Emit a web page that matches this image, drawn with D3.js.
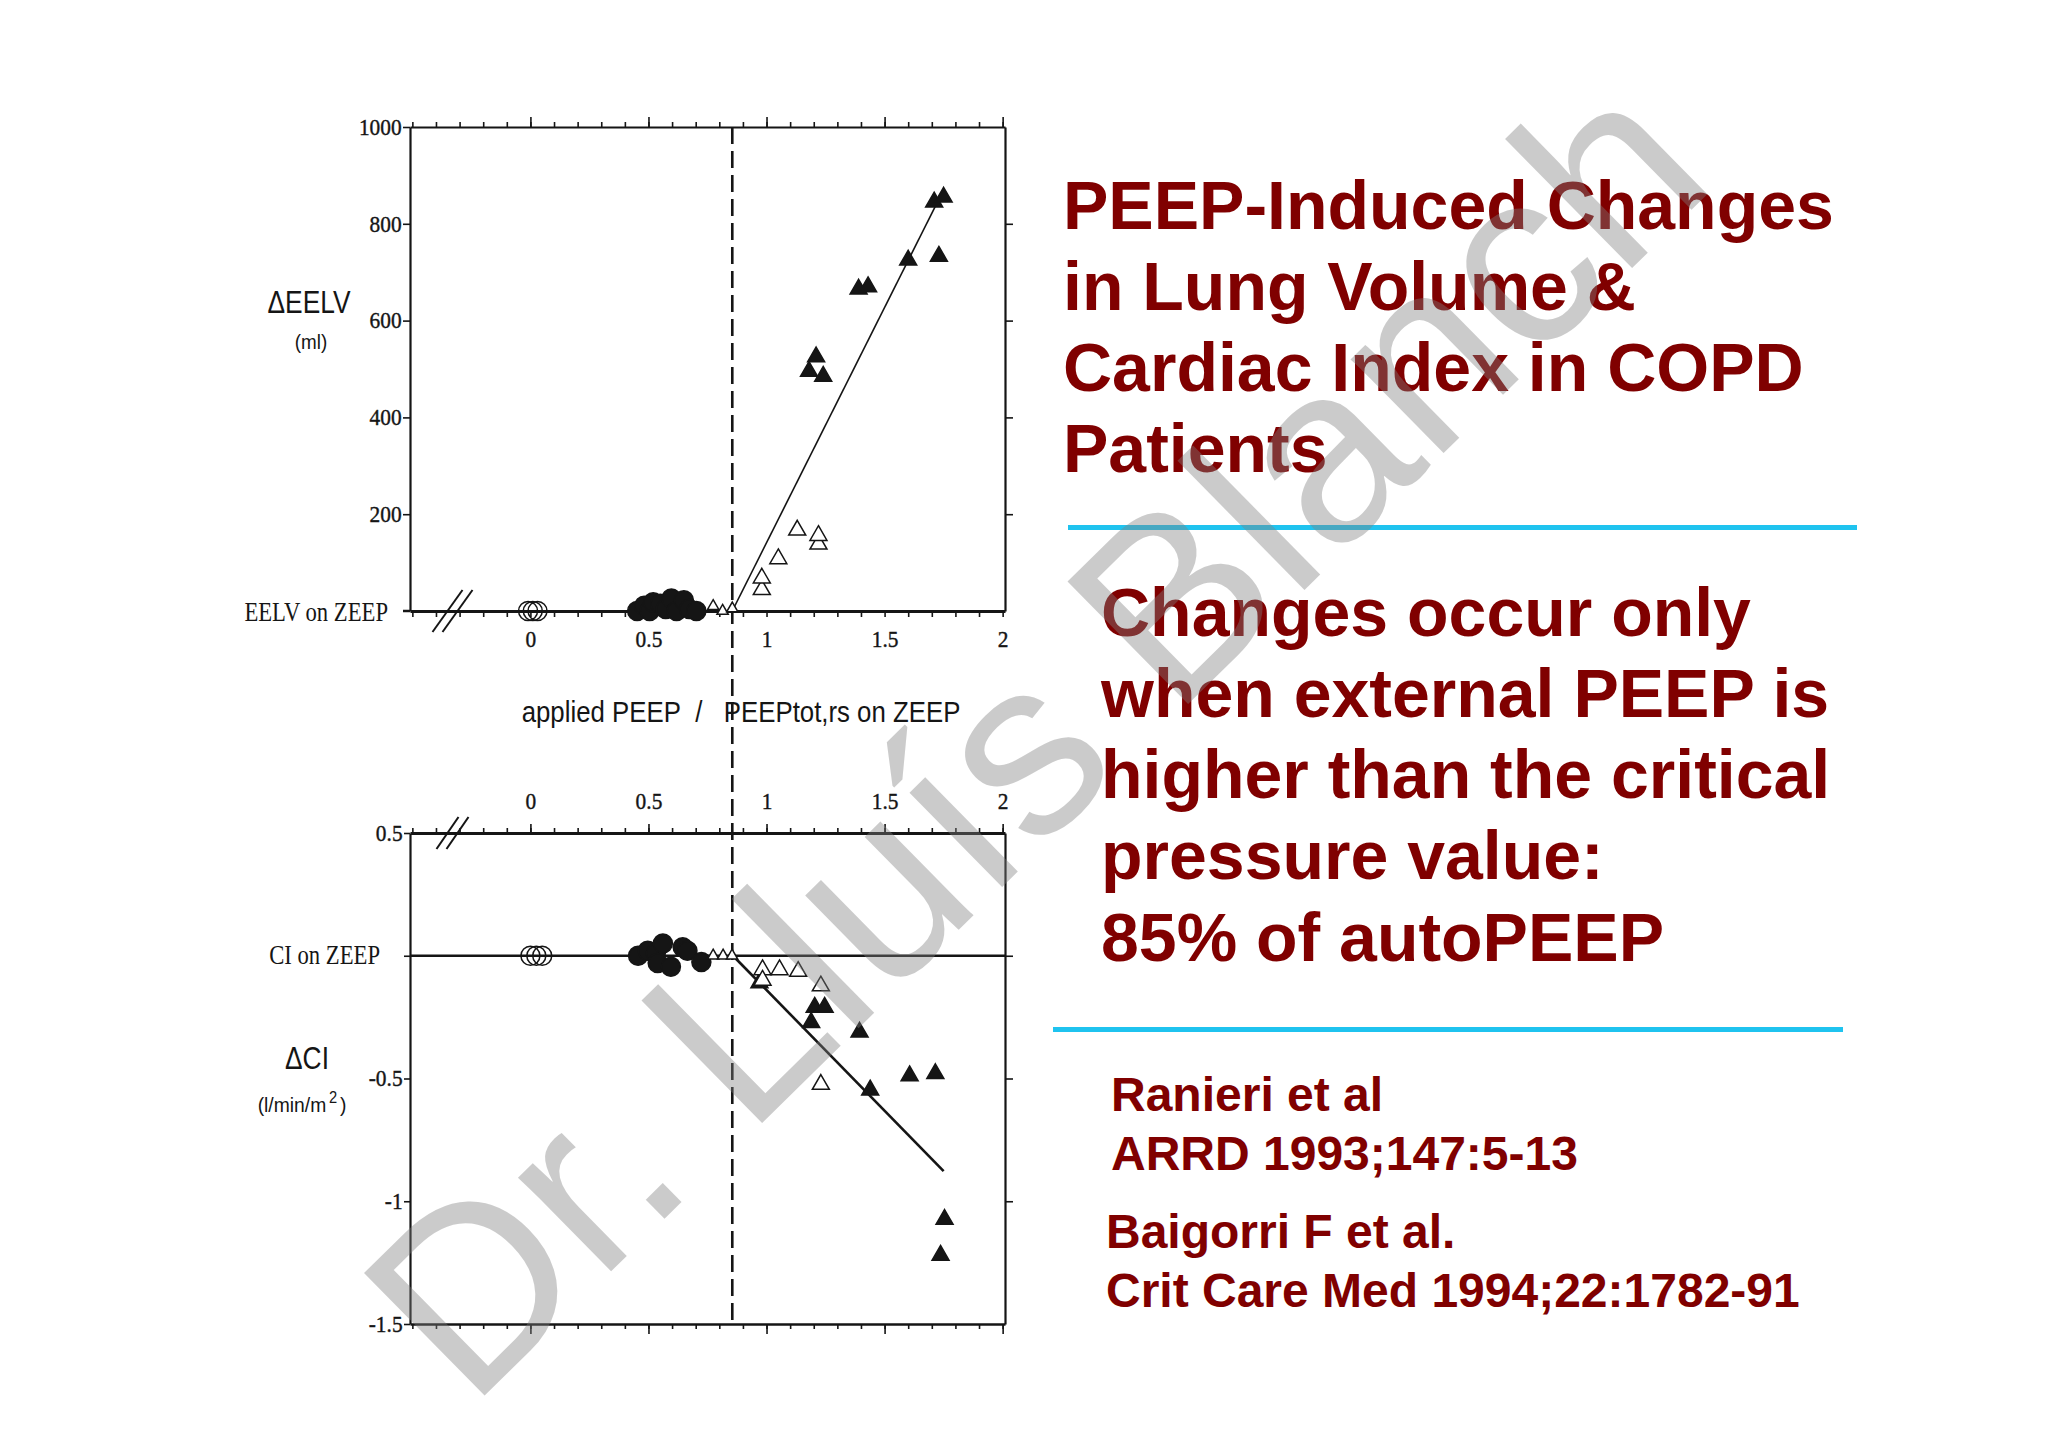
<!DOCTYPE html>
<html>
<head>
<meta charset="utf-8">
<script src="https://cdnjs.cloudflare.com/ajax/libs/d3/7.8.5/d3.min.js"></script>
<style>
  body { margin: 0; background: #fff; }
</style>
</head>
<body>
<div id="chart"></div>
<script>
const width = 2048;
const height = 1447;

// x axis: applied PEEP / PEEPtot,rs on ZEEP
const xMajor = [0, 0.5, 1, 1.5, 2];
const xMajorLabels = ["0", "0.5", "1", "1.5", "2"];
const criticalRatio = 0.855;

// top panel: ΔEELV (ml)
const eelvTicks = [200, 400, 600, 800, 1000];
const eelvZeepX = [-0.01, 0.01, 0.03];
const eelvLowX = [0.452, 0.482, 0.505, 0.52, 0.55, 0.573, 0.597, 0.619, 0.65, 0.673, 0.703];
const eelvLowY = [0, 11, 0, 18, 15, 4, 26, 0, 22, 4, 0];
const eelvNearX = [0.774, 0.814, 0.855];
const eelvNearY = [10, 0, 5];
const eelvOpenX = [0.98, 0.98, 1.05, 1.13, 1.22, 1.22];
const eelvOpenY = [44, 68, 108, 167, 138, 156];
const eelvFilledX = [1.18, 1.21, 1.24, 1.39, 1.43, 1.60, 1.71, 1.73, 1.75];
const eelvFilledY = [495, 525, 485, 665, 670, 725, 845, 733, 855];
const eelvFitX = [0.855, 1.72];
const eelvFitY = [0, 841];

// bottom panel: ΔCI (l/min/m2)
const ciTicks = [0.5, 0, -0.5, -1, -1.5];
const ciTickLabels = ["0.5", "", "-0.5", "-1", "-1.5"];
const ciZeepX = [0, 0.025, 0.05];
const ciLowX = [0.456, 0.497, 0.531, 0.561, 0.539, 0.595, 0.645, 0.665, 0.724];
const ciLowY = [0, 0.02, 0.01, 0.05, -0.03, -0.045, 0.035, 0.02, -0.025];
const ciNearX = [0.774, 0.816, 0.854];
const ciNearY = [0, 0, 0];
const ciOpenX = [0.983, 1.055, 1.134, 0.983, 1.23, 1.23];
const ciOpenY = [-0.057, -0.057, -0.064, -0.1, -0.123, -0.524];
const ciFilledX = [0.97, 1.204, 1.246, 1.189, 1.394, 1.439, 1.606, 1.715, 1.754, 1.737];
const ciFilledY = [-0.11, -0.21, -0.21, -0.272, -0.311, -0.547, -0.489, -0.48, -1.074, -1.22];
const ciFitX = [0.858, 1.75];
const ciFitY = [0, -0.877];

// slide text
const titleLines = ["PEEP-Induced Changes", "in Lung Volume &", "Cardiac Index in COPD", "Patients"];
const bodyLines = ["Changes occur only", "when external PEEP is", "higher than the critical", "pressure value:", "85% of autoPEEP"];
const refLines = ["Ranieri et al", "ARRD 1993;147:5-13", "Baigorri F et al.", "Crit Care Med 1994;22:1782-91"];
const watermark = "Dr. Lluís Blanch";

const serif = "'Liberation Serif','Times New Roman',serif";
const sans = "'Liberation Sans',Arial,Helvetica,sans-serif";
const ink = "#151515";
const red = "#800000";
const cyan = "#1fc3ef";

const svg = d3.select("#chart")
  .append("svg")
  .attr("width", width)
  .attr("height", height);

svg.append("rect").attr("width", width).attr("height", height).attr("fill", "#fff");

// Scales
const x = d3.scaleLinear().domain([-0.51, 2.01]).range([410, 1005]);
const yE = d3.scaleLinear().domain([0, 1000]).range([611, 127]);
const yC = d3.scaleLinear().domain([-1.5, 0.5]).range([1324, 833]);
const minorX = d3.range(-5, 21).map(i => i / 10);

function styleAxis(a) {
  a.select(".domain").attr("stroke", ink).attr("stroke-width", 2.2);
  a.selectAll(".tick line").attr("stroke", ink).attr("stroke-width", 1.6);
  a.selectAll("text")
    .attr("font-family", serif)
    .attr("font-size", 23)
    .attr("fill", ink)
    .attr("stroke", ink)
    .attr("stroke-width", 0.4)
    .attr("transform", "scale(0.93,1)");
  return a;
}

function axisAt(axis, tx, ty, noDomain) {
  const a = svg.append("g").attr("transform", `translate(${tx},${ty})`).call(axis);
  styleAxis(a);
  if (noDomain) a.select(".domain").remove();
  return a;
}

function label(txt, px, py, o = {}) {
  return svg.append("text")
    .attr("transform", `translate(${px},${py}) scale(${o.sx || 1},1)`)
    .attr("text-anchor", o.anchor || "start")
    .attr("font-family", o.family || sans)
    .attr("font-size", o.size || 20)
    .attr("font-weight", o.weight || "normal")
    .attr("fill", o.fill || ink)
    .text(txt);
}

function breakMark(cx, cy, dx, dy) {
  [-5, 5].forEach(off => {
    svg.append("line")
      .attr("x1", cx - dx + off).attr("y1", cy + dy)
      .attr("x2", cx + dx + off).attr("y2", cy - dy)
      .attr("stroke", ink).attr("stroke-width", 2);
  });
}

const triangle = d3.symbol().type(d3.symbolTriangle);

function drawPoints(xs, ys, yScale, kind) {
  const g = svg.append("g");
  const data = xs.map((v, i) => [v, ys[i]]);
  if (kind === "filledCircle" || kind === "openCircle") {
    g.selectAll("circle").data(data).enter().append("circle")
      .attr("cx", d => x(d[0]))
      .attr("cy", d => yScale(d[1]))
      .attr("r", 9.5)
      .attr("fill", kind === "filledCircle" ? ink : "none")
      .attr("stroke", ink)
      .attr("stroke-width", 1.5);
  } else {
    const size = kind === "smallTri" ? 55 : 125;
    g.selectAll("path").data(data).enter().append("path")
      .attr("d", triangle.size(size)())
      .attr("transform", d => `translate(${x(d[0])},${yScale(d[1])})`)
      .attr("fill", kind === "filledTri" ? ink : "#fff")
      .attr("stroke", ink)
      .attr("stroke-width", 1.5);
  }
}

function fitLine(xs, ys, yScale, w) {
  svg.append("path")
    .attr("d", d3.line().x(d => x(d[0])).y(d => yScale(d[1]))(xs.map((v, i) => [v, ys[i]])))
    .attr("fill", "none")
    .attr("stroke", ink)
    .attr("stroke-width", w);
}

/* ---------- Top panel: ΔEELV ---------- */
axisAt(d3.axisLeft(yE).tickValues(eelvTicks).tickSize(7).tickSizeOuter(0).tickPadding(2)
  .tickFormat(d3.format("d")), x(-0.51), 0);
// short stub of the zero line left of the frame
svg.append("line").attr("x1", x(-0.51) - 7).attr("x2", x(-0.51)).attr("y1", yE(0)).attr("y2", yE(0))
  .attr("stroke", ink).attr("stroke-width", 2.5);
axisAt(d3.axisRight(yE).tickValues([200, 400, 600, 800]).tickSize(8).tickSizeOuter(0).tickFormat(""), x(2.01), 0);
axisAt(d3.axisTop(x).tickValues(minorX).tickSize(5).tickSizeOuter(0).tickFormat(""), 0, yE(1000));
axisAt(d3.axisTop(x).tickValues(xMajor).tickSize(10).tickFormat(""), 0, yE(1000), true);
const baseTop = axisAt(d3.axisBottom(x).tickValues(minorX).tickSize(6).tickSizeOuter(0).tickFormat(""), 0, yE(0));
baseTop.select(".domain").attr("stroke-width", 2.8);
axisAt(d3.axisBottom(x).tickValues(xMajor).tickSize(0).tickPadding(20)
  .tickFormat((d, i) => xMajorLabels[i]), 0, yE(0), true);

breakMark(x(-0.33), yE(0), 15, 21);

label("\u0394EELV", 309, 313, { size: 31, anchor: "middle", sx: 0.85 });
label("(ml)", 311, 349, { size: 21, anchor: "middle", sx: 0.9 });
label("EELV on ZEEP", 388, 621, { size: 27, anchor: "end", family: serif, sx: 0.84 });

label("applied PEEP\u00a0\u00a0/\u00a0\u00a0\u00a0PEEPtot,rs on ZEEP", 741, 722, { size: 30, anchor: "middle", sx: 0.86 });

/* ---------- Bottom panel: ΔCI ---------- */
axisAt(d3.axisLeft(yC).tickValues(ciTicks).tickSize(6).tickSizeOuter(0).tickPadding(2)
  .tickFormat((d, i) => ciTickLabels[i]), x(-0.51), 0);
axisAt(d3.axisRight(yC).tickValues([0, -0.5, -1]).tickSize(8).tickSizeOuter(0).tickFormat(""), x(2.01), 0);
const topC = axisAt(d3.axisTop(x).tickValues(minorX).tickSize(5).tickSizeOuter(0).tickFormat(""), 0, yC(0.5));
topC.select(".domain").attr("stroke-width", 2.8);
axisAt(d3.axisTop(x).tickValues(xMajor).tickSize(9).tickFormat(""), 0, yC(0.5), true);
axisAt(d3.axisTop(x).tickValues(xMajor).tickSize(0).tickPadding(24)
  .tickFormat((d, i) => xMajorLabels[i]), 0, yC(0.5), true);
const botC = axisAt(d3.axisBottom(x).tickValues(minorX).tickSize(5).tickSizeOuter(0).tickFormat(""), 0, yC(-1.5));
botC.select(".domain").attr("stroke-width", 2.6);
axisAt(d3.axisBottom(x).tickValues(xMajor).tickSize(10).tickFormat(""), 0, yC(-1.5), true);

// CI on ZEEP reference line
svg.append("line")
  .attr("x1", x(-0.51)).attr("x2", x(2.01))
  .attr("y1", yC(0)).attr("y2", yC(0))
  .attr("stroke", ink).attr("stroke-width", 2.6);

breakMark(x(-0.33), yC(0.5), 11, 16);

label("CI on ZEEP", 380, 964, { size: 27, anchor: "end", family: serif, sx: 0.84 });
label("\u0394CI", 307, 1069, { size: 31, anchor: "middle", sx: 0.85 });
const unitLabel = label("(l/min/m", 302, 1112, { size: 21, anchor: "middle", sx: 0.92 });
unitLabel.append("tspan").attr("font-size", 16).attr("dy", -9).attr("dx", 3).text("2");
unitLabel.append("tspan").attr("dy", 9).attr("dx", 3).text(")");

/* ---------- critical ratio dashed line ---------- */
svg.append("line")
  .attr("x1", x(criticalRatio)).attr("x2", x(criticalRatio))
  .attr("y1", yE(1000)).attr("y2", yC(-1.5))
  .attr("stroke", ink).attr("stroke-width", 2.6)
  .attr("stroke-dasharray", "17,7");

/* ---------- fits and points ---------- */
fitLine(eelvFitX, eelvFitY, yE, 1.6);
fitLine(ciFitX, ciFitY, yC, 2.6);

drawPoints(eelvZeepX, eelvZeepX.map(() => 0), yE, "openCircle");
drawPoints(eelvLowX, eelvLowY, yE, "filledCircle");
drawPoints(eelvNearX, eelvNearY, yE, "smallTri");
drawPoints(eelvOpenX, eelvOpenY, yE, "openTri");
drawPoints(eelvFilledX, eelvFilledY, yE, "filledTri");

drawPoints(ciZeepX, ciZeepX.map(() => 0), yC, "openCircle");
drawPoints(ciLowX, ciLowY, yC, "filledCircle");
drawPoints(ciNearX, ciNearY, yC, "smallTri");
drawPoints(ciFilledX, ciFilledY, yC, "filledTri");
drawPoints(ciOpenX, ciOpenY, yC, "openTri");

/* ---------- slide text ---------- */
const titleY = [229, 310, 391, 472];
titleLines.forEach((t, i) => label(t, 1063, titleY[i], { size: 68, weight: "bold", fill: red }));

svg.append("rect").attr("x", 1068).attr("y", 525).attr("width", 789).attr("height", 5).attr("fill", cyan);

const bodyY = [636, 717, 798, 879, 961];
bodyLines.forEach((t, i) => label(t, 1101, bodyY[i], { size: 68, weight: "bold", fill: red }));

svg.append("rect").attr("x", 1053).attr("y", 1027).attr("width", 790).attr("height", 5).attr("fill", cyan);

const refX = [1111, 1111, 1106, 1106];
const refY = [1111, 1170, 1248, 1307];
refLines.forEach((t, i) => label(t, refX[i], refY[i], { size: 48, weight: "bold", fill: red }));

/* ---------- watermark ---------- */
svg.append("text")
  .attr("transform", "translate(470,1410) rotate(-44.5)")
  .attr("font-family", sans)
  .attr("font-size", 250)
  .attr("fill", "#808080")
  .attr("opacity", 0.4)
  .text(watermark);
</script>
</body>
</html>
